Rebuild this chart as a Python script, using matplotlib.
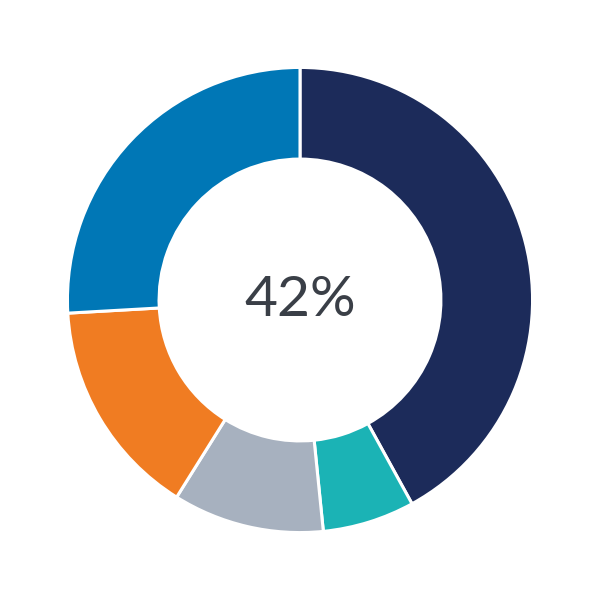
import matplotlib.pyplot as plt

labels = ['A', 'B', 'C', 'D', 'E']
values = [42, 6.4, 10.5, 15.2, 25.9]
colors = ['#1c2b5a', '#1bb3b5', '#a7b1bf', '#f07c22', '#0077b6']
center_text = '42%'

fig = plt.figure(figsize=(6, 6), dpi=100)
ax = fig.add_axes([0, 0, 1, 1])

ax.pie(values, colors=colors, startangle=90, counterclock=False,
       radius=1.0, wedgeprops=dict(width=0.394, edgecolor='white', linewidth=2.2))

ax.text(0, 0, center_text, ha='center', va='center', fontsize=41,
        family=['Lato', 'DejaVu Sans'], color='#3a3f47')

ax.set_xlim(-1.29, 1.29)
ax.set_ylim(-1.29, 1.29)
ax.set_aspect('equal')
ax.axis('off')

fig.savefig('out.png', dpi=100, facecolor='white')
